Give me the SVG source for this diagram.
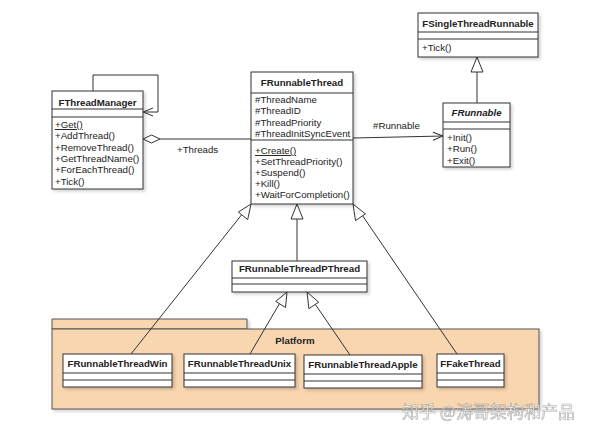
<svg xmlns="http://www.w3.org/2000/svg" width="600" height="438" viewBox="0 0 600 438">
<defs>
<style>
.box{fill:#fff;stroke:#333;stroke-width:1}
.div{stroke:#333;stroke-width:1}
.t{font-family:"Liberation Sans",Arial,sans-serif;font-size:9.7px;font-weight:bold;fill:#222;text-anchor:middle}
.m{font-family:"Liberation Sans",Arial,sans-serif;font-size:9.7px;fill:#222}
.u{text-decoration:underline}
.ln{fill:none;stroke:#333;stroke-width:1}
.tri{fill:#fff;stroke:#333;stroke-width:1}
.pkg{fill:#F8D6B0;stroke:#555;stroke-width:1}
.wm{font-family:"Noto Sans CJK SC","Liberation Sans",sans-serif;font-size:17px;fill:#fff;stroke:#999;stroke-width:0.6;opacity:0.85}
</style>
<filter id="sh" x="-10%" y="-10%" width="130%" height="130%">
<feDropShadow dx="2" dy="2" stdDeviation="1.5" flood-color="#000" flood-opacity="0.18"/>
</filter>
<marker id="open" markerWidth="12" markerHeight="10" refX="11" refY="5" orient="auto" markerUnits="userSpaceOnUse">
<path d="M1,1 L11,5 L1,9" fill="none" stroke="#333" stroke-width="1"/>
</marker>
</defs>
<rect width="600" height="438" fill="#fff"/>

<g id="platform">
<path class="pkg" d="M52,319 H247 V329 H52 Z" filter="url(#sh)"/>
<rect class="pkg" x="52" y="329" width="487" height="80" filter="url(#sh)"/>
<text class="t" x="295" y="343.5">Platform</text>
</g>

<g id="connectors">
<path class="ln" d="M93,91 V75 H158 V112 H143" marker-end="url(#open)"/>
<line class="ln" x1="160" y1="139" x2="251" y2="139"/>
<path class="tri" d="M143,139 L151.5,135 L160,139 L151.5,143 Z"/>
<text class="m" x="177" y="153">+Threads</text>
<line class="ln" x1="353" y1="138" x2="443" y2="136" marker-end="url(#open)"/>
<text class="m" x="373" y="128.5">#Runnable</text>
<line class="ln" x1="477" y1="103" x2="477" y2="72"/>
<path class="tri" d="M477,57 L483,72 L471,72 Z"/>
<line class="ln" x1="297" y1="261" x2="297" y2="219"/>
<path class="tri" d="M297,204 L303,219 L291,219 Z"/>
<line class="ln" x1="131" y1="354" x2="243" y2="213"/>
<path class="tri" d="M251,204 L247.7,219.6 L238.3,212.1 Z"/>
<line class="ln" x1="457" y1="354" x2="360" y2="212"/>
<path class="tri" d="M353,204 L365.4,213.9 L355.5,220.7 Z"/>
<line class="ln" x1="250" y1="354" x2="281" y2="301"/>
<path class="tri" d="M287,292 L285.5,307.5 L275.7,301.4 Z"/>
<line class="ln" x1="350" y1="355" x2="313" y2="301"/>
<path class="tri" d="M307,292 L318.7,302.2 L308.9,308.6 Z"/>
</g>

<g id="FThreadManager">
<rect class="box" x="52" y="91" width="91" height="98" filter="url(#sh)"/>
<line class="div" x1="52" y1="109" x2="143" y2="109"/>
<line class="div" x1="52" y1="117" x2="143" y2="117"/>
<text class="t" x="97.5" y="105.5">FThreadManager</text>
<text class="m u" x="55" y="128">+Get()</text>
<text class="m" x="55" y="139.3">+AddThread()</text>
<text class="m" x="55" y="150.6">+RemoveThread()</text>
<text class="m" x="55" y="161.9">+GetThreadName()</text>
<text class="m" x="55" y="173.2">+ForEachThread()</text>
<text class="m" x="55" y="184.5">+Tick()</text>
</g>

<g id="FRunnableThread">
<rect class="box" x="251" y="72" width="102" height="132" filter="url(#sh)"/>
<line class="div" x1="251" y1="93" x2="353" y2="93"/>
<line class="div" x1="251" y1="140" x2="353" y2="140"/>
<text class="t" x="302" y="85.5">FRunnableThread</text>
<text class="m" x="255" y="102.5">#ThreadName</text>
<text class="m" x="255" y="114">#ThreadID</text>
<text class="m" x="255" y="125.5">#ThreadPriority</text>
<text class="m" x="255" y="137">#ThreadInitSyncEvent</text>
<text class="m u" x="255" y="154">+Create()</text>
<text class="m" x="255" y="165">+SetThreadPriority()</text>
<text class="m" x="255" y="176">+Suspend()</text>
<text class="m" x="255" y="187">+Kill()</text>
<text class="m" x="255" y="198">+WaitForCompletion()</text>
</g>

<g id="FSingleThreadRunnable">
<rect class="box" x="418" y="13" width="120" height="44" filter="url(#sh)"/>
<line class="div" x1="418" y1="32" x2="538" y2="32"/>
<line class="div" x1="418" y1="39" x2="538" y2="39"/>
<text class="t" x="478" y="26.5">FSingleThreadRunnable</text>
<text class="m" x="422" y="50.5">+Tick()</text>
</g>

<g id="FRunnable">
<rect class="box" x="443" y="103" width="67" height="64" filter="url(#sh)"/>
<line class="div" x1="443" y1="122" x2="510" y2="122"/>
<line class="div" x1="443" y1="129" x2="510" y2="129"/>
<text class="t" x="476.5" y="115.5" font-style="italic">FRunnable</text>
<text class="m" x="447" y="140.5">+Init()</text>
<text class="m" x="447" y="152">+Run()</text>
<text class="m" x="447" y="163.5">+Exit()</text>
</g>

<g id="FRunnableThreadPThread">
<rect class="box" x="232" y="261" width="135" height="31" filter="url(#sh)"/>
<line class="div" x1="232" y1="278" x2="367" y2="278"/>
<line class="div" x1="232" y1="284" x2="367" y2="284"/>
<text class="t" x="299.5" y="271.5">FRunnableThreadPThread</text>
</g>

<g id="FRunnableThreadWin">
<rect class="box" x="63" y="354" width="109" height="33" filter="url(#sh)"/>
<line class="div" x1="63" y1="373" x2="172" y2="373"/>
<line class="div" x1="63" y1="380" x2="172" y2="380"/>
<text class="t" x="117.5" y="366.5">FRunnableThreadWin</text>
</g>

<g id="FRunnableThreadUnix">
<rect class="box" x="184" y="354" width="111" height="33" filter="url(#sh)"/>
<line class="div" x1="184" y1="373" x2="295" y2="373"/>
<line class="div" x1="184" y1="380" x2="295" y2="380"/>
<text class="t" x="239.5" y="366.5">FRunnableThreadUnix</text>
</g>

<g id="FRunnableThreadApple">
<rect class="box" x="304" y="355" width="118" height="33" filter="url(#sh)"/>
<line class="div" x1="304" y1="374" x2="422" y2="374"/>
<line class="div" x1="304" y1="381" x2="422" y2="381"/>
<text class="t" x="363" y="367.5">FRunnableThreadApple</text>
</g>

<g id="FFakeThread">
<rect class="box" x="437" y="354" width="67" height="33" filter="url(#sh)"/>
<line class="div" x1="437" y1="373" x2="504" y2="373"/>
<line class="div" x1="437" y1="380" x2="504" y2="380"/>
<text class="t" x="470.5" y="366.5">FFakeThread</text>
</g>

<text class="wm" x="402" y="418">知乎 @涛哥架构和产品</text>
</svg>
